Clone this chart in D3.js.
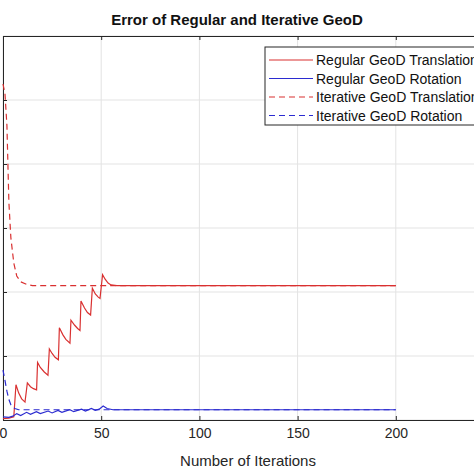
<!DOCTYPE html>
<html><head><meta charset="utf-8">
<script src="https://cdn.jsdelivr.net/npm/d3@7"></script>
<style>body{margin:0;background:#fff}text{font-family:"Liberation Sans",Arial,sans-serif}</style>
</head><body><svg id="chart"></svg>
<script>
// values: [iteration, error]
const regTrans = [[0,0.02],[3,0.03],[5.5,0.05],[6.6,0.55],[8,0.42],[9.5,0.33],[11.2,0.28],[12.4,0.58],[14,0.52],[15.5,0.49],[17.1,0.47],
  [17.6,0.9],[19,0.82],[21,0.75],[22.9,0.7],[23.6,1.11],[25,1.04],[26.5,0.98],[28.2,0.94],[28.7,1.44],[30.5,1.33],[32,1.26],[34.1,1.2],
  [34.6,1.56],[36.5,1.48],[38,1.43],[39.2,1.4],[39.7,1.86],[41.5,1.75],[43,1.68],[44.6,1.64],[45.5,2.06],[47,1.97],[48.5,1.92],[49.4,1.9],
  [50.7,2.27],[52,2.2],[53.5,2.14],[55,2.11],[58,2.1],[200,2.1]];
const regRot = [[0,0.05],[3,0.04],[5,0.06],[7,0.1],[9,0.07],[12,0.12],[14,0.09],[17,0.13],[19,0.1],[23,0.14],[25,0.11],[28,0.15],[30,0.12],
  [34,0.16],[36,0.13],[40,0.17],[42,0.14],[45,0.18],[47,0.15],[49,0.17],[51,0.22],[53,0.18],[56,0.16],[200,0.16]];
const iterTrans = [[0,5.25],[1,5.1],[2,4.6],[3,3.4],[4,2.85],[5.5,2.45],[7,2.25],[9,2.16],[12,2.12],[15,2.1],[200,2.1]];
const iterRot = [[0,0.78],[1,0.62],[2,0.45],[3,0.32],[4,0.24],[6,0.18],[8,0.16],[200,0.16]];
const series = [
  {name:"Regular GeoD Translation", data:regTrans, color:"#d93030", dash:null},
  {name:"Regular GeoD Rotation", data:regRot, color:"#2b2bd0", dash:null},
  {name:"Iterative GeoD Translation", data:iterTrans, color:"#d93030", dash:"6,4"},
  {name:"Iterative GeoD Rotation", data:iterRot, color:"#2b2bd0", dash:"6,4"}
];
const xTicks = [0,50,100,150,200];
const yTicks = [0,1,2,3,4,5,6];

const width = 474, height = 474;
const svg = d3.select("#chart").attr("width", width).attr("height", height);

const x = d3.scaleLinear().domain([0, 250]).range([3, 494]);
const y = d3.scaleLinear().domain([0, 6]).range([420, 36]);

// grid
svg.append("g").selectAll("line").data(xTicks).join("line")
  .attr("x1", d => x(d)).attr("x2", d => x(d)).attr("y1", y(6)).attr("y2", y(0))
  .attr("stroke", "#e3e3e3");
svg.append("g").selectAll("line").data(yTicks).join("line")
  .attr("x1", x(0)).attr("x2", x(250)).attr("y1", d => y(d)).attr("y2", d => y(d))
  .attr("stroke", "#e3e3e3");

// axes
svg.append("g").attr("transform", `translate(0,${y(0)})`)
  .call(d3.axisBottom(x).tickValues(xTicks).tickSize(-4).tickPadding(8).tickFormat(d3.format("d")))
  .call(g => g.select(".domain").attr("stroke", "#262626"))
  .call(g => g.selectAll(".tick line").attr("stroke", "#262626"))
  .call(g => g.selectAll("text").attr("font-size", 14).attr("fill", "#262626"));
svg.append("g").attr("transform", `translate(${x(0)},0)`)
  .call(d3.axisLeft(y).tickValues(yTicks).tickSize(-4).tickFormat(""))
  .call(g => g.select(".domain").attr("stroke", "#262626"))
  .call(g => g.selectAll(".tick line").attr("stroke", "#262626"));
svg.append("g").attr("transform", `translate(0,${y(6)})`)
  .call(d3.axisTop(x).tickValues(xTicks).tickSize(-4).tickFormat(""))
  .call(g => g.select(".domain").attr("stroke", "#262626"))
  .call(g => g.selectAll(".tick line").attr("stroke", "#262626"));

// lines
const line = d3.line().x(d => x(d[0])).y(d => y(d[1]));
svg.append("g").selectAll("path").data(series).join("path")
  .attr("fill", "none").attr("stroke", d => d.color).attr("stroke-width", 1.2)
  .attr("stroke-dasharray", d => d.dash).attr("d", d => line(d.data));

// title + label
svg.append("text").attr("x", 237).attr("y", 25).attr("text-anchor", "middle")
  .attr("font-size", 15).attr("font-weight", "bold").attr("fill", "#111").text("Error of Regular and Iterative GeoD");
svg.append("text").attr("x", 248).attr("y", 466).attr("text-anchor", "middle")
  .attr("font-size", 15).attr("fill", "#262626").text("Number of Iterations");

// legend
const lg = svg.append("g").attr("transform", "translate(265,47)");
lg.append("rect").attr("width", 215).attr("height", 78).attr("fill", "#fff").attr("stroke", "#262626");
series.forEach((s, i) => {
  const yy = 13 + i * 18.5;
  lg.append("line").attr("x1", 4).attr("x2", 48).attr("y1", yy).attr("y2", yy)
    .attr("stroke", s.color).attr("stroke-width", 1.2).attr("stroke-dasharray", s.dash);
  lg.append("text").attr("x", 51).attr("y", yy + 5).attr("font-size", 14).attr("fill", "#111").text(s.name);
});
</script></body></html>
